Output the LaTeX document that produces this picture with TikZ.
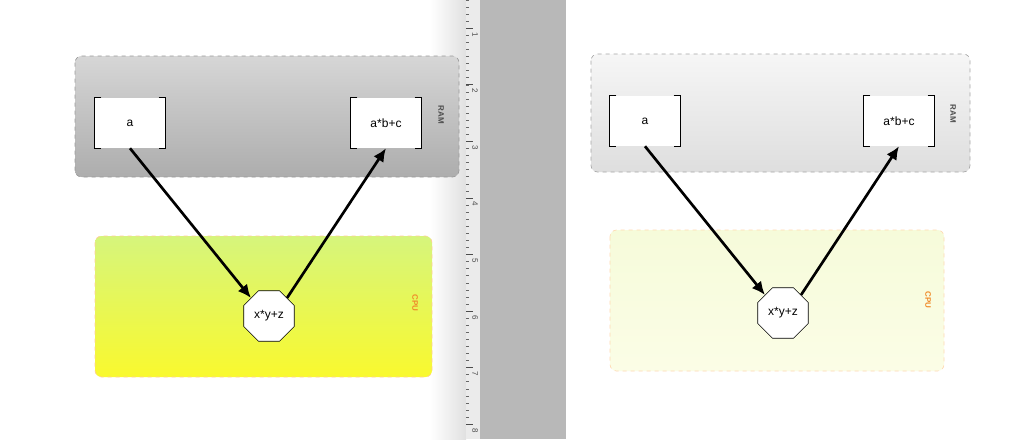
\documentclass[tikz,border=0pt]{standalone}
\usepackage{fontspec}
\setmainfont{Liberation Sans}
\usetikzlibrary{shapes.geometric,arrows.meta}
\definecolor{ramtopL}{HTML}{D6D6D6}
\definecolor{rambotL}{HTML}{ADADAD}
\definecolor{ramtopR}{HTML}{F6F6F6}
\definecolor{rambotR}{HTML}{DEDEDE}
\definecolor{cputopL}{HTML}{D6F57C}
\definecolor{cpubotL}{HTML}{F9F92E}
\definecolor{cputopR}{HTML}{F6FBDA}
\definecolor{cpubotR}{HTML}{FBFDE6}
\definecolor{cpulabel}{HTML}{F08A2A}
\tikzset{
  cell/.style={fill=white,minimum width=52.5pt,minimum height=37.5pt,inner sep=0pt,font=\small},
  op/.style={regular polygon,regular polygon sides=8,draw,fill=white,minimum size=41pt,inner sep=0pt,font=\small},
  flow/.style={line width=2pt,-{Latex[length=10pt,width=9pt]}},
  zone/.style={rounded corners=5pt,dashed,line width=0.5pt},
  tag/.style={rotate=-90,font=\bfseries\fontsize{6}{7}\selectfont}
}
\newcommand{\bracketcell}[1]{%
  \draw[line width=0.6pt] ([xshift=5pt]#1.north west) -- (#1.north west) -- (#1.south west) -- ([xshift=5pt]#1.south west);
  \draw[line width=0.6pt] ([xshift=-5pt]#1.north east) -- (#1.north east) -- (#1.south east) -- ([xshift=-5pt]#1.south east);}
\begin{document}
\begin{tikzpicture}[x=0.75pt,y=-0.75pt]
\useasboundingbox (0,0) rectangle (1024,439);
% left page and divider
\fill[white] (0,0) rectangle (1024,439);
\shade[left color=white,right color=black!12] (430,0) rectangle (466,439);
\fill[black!28] (480,0) rectangle (566,439);
\fill[black!8] (466,0) rectangle (480,439);
\foreach \k in {0,...,63}
  \draw[black!60,line width=0.4pt] (466,{-28.3+\k*7.07}) -- ++(3,0);
\foreach \n in {1,...,8} {
  \draw[black!70,line width=0.6pt] (466,{-28.3+\n*56.55}) -- ++(7,0);
  \node[rotate=-90,font=\fontsize{6}{7}\selectfont,text=black!70] at (475,{-22+\n*56.55}) {\n};
}
% left diagram
\shade[zone,top color=ramtopL,bottom color=rambotL,draw=black!40] (75,56) rectangle (459,177);
\shade[zone,top color=cputopL,bottom color=cpubotL,draw=orange!40] (95,236) rectangle (432,377);
\node[tag,text=black!70] (ramL) at (441,115) {RAM};
\node[tag,text=cpulabel] (cpuL) at (415,303) {CPU};
\node[cell] (aL) at (130,123) {a};
\node[cell] (abcL) at (386,123) {a*b+c};
\bracketcell{aL}
\bracketcell{abcL}
\node[op] (opL) at (269,316) {x*y+z};
\draw[flow] (aL.south) -- (opL.north west);
\draw[flow] (opL.north east) -- (abcL.south);
% right diagram
\shade[zone,top color=ramtopR,bottom color=rambotR,draw=black!35] (591,54) rectangle (970,172);
\shade[zone,top color=cputopR,bottom color=cpubotR,draw=orange!30] (610,230) rectangle (944,371);
\node[tag,text=black!70] (ramR) at (953,114) {RAM};
\node[tag,text=cpulabel] (cpuR) at (928,300) {CPU};
\node[cell] (aR) at (645,121) {a};
\node[cell] (abcR) at (899,121) {a*b+c};
\bracketcell{aR}
\bracketcell{abcR}
\node[op] (opR) at (783,313) {x*y+z};
\draw[flow] (aR.south) -- (opR.north west);
\draw[flow] (opR.north east) -- (abcR.south);
\end{tikzpicture}
\end{document}
